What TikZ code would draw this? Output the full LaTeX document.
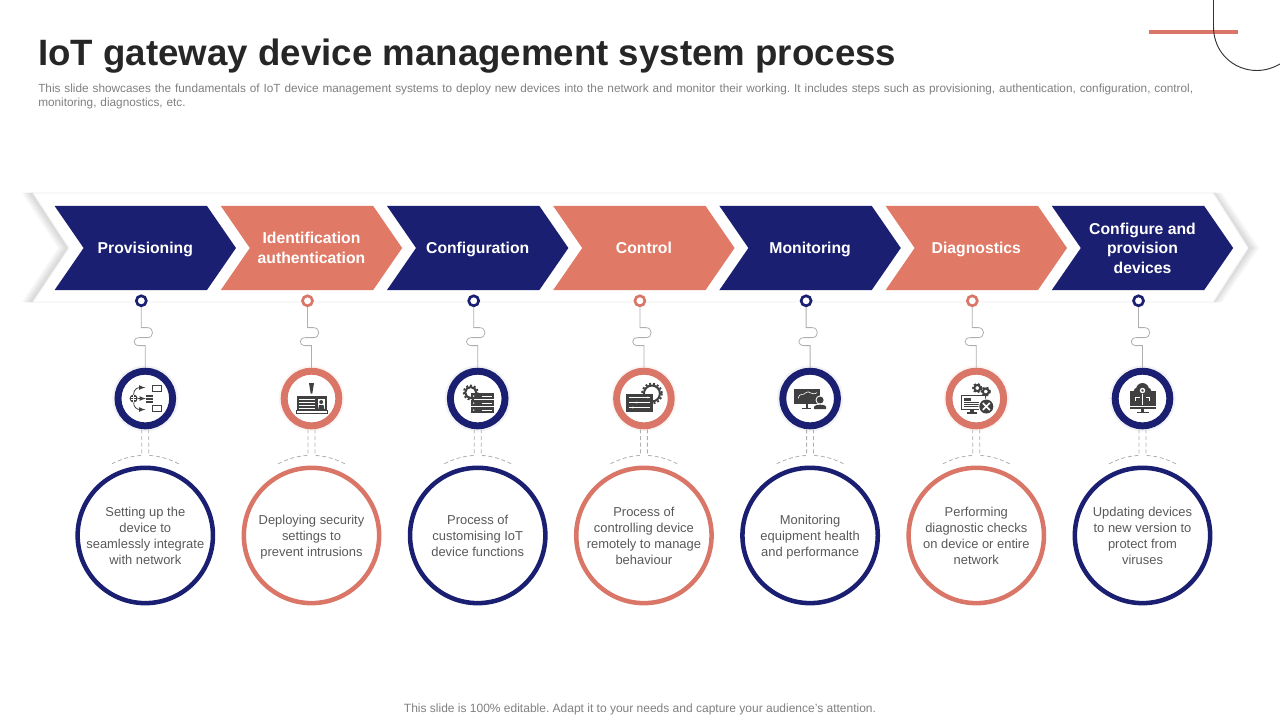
\documentclass[tikz,border=0pt]{standalone}
\usepackage{fontspec}
\setmainfont{Liberation Sans}
\usepackage{tikz}
\usetikzlibrary{shapes.symbols,positioning,calc}
\usepackage{xcolor}
\definecolor{cNavy}{RGB}{26,31,113}
\definecolor{cCoral}{RGB}{224,122,103}
\definecolor{cRing}{RGB}{217,118,104}
\definecolor{cTitle}{RGB}{38,38,38}
\definecolor{cNote}{RGB}{127,127,127}
\definecolor{cBody}{RGB}{89,89,89}
\definecolor{cIcon}{RGB}{64,64,64}
\definecolor{cWire}{RGB}{175,175,175}
\frenchspacing
\tikzset{
  basestep/.style={signal,signal to=east,signal from=west,signal pointer angle=110.8,
                   minimum width=136pt,minimum height=63pt,inner sep=0pt,outer sep=0pt,
                   align=center,text=white,text depth=0pt,font=\fontsize{11.8}{14.7}\selectfont\bfseries},
  navystep/.style={basestep,fill=cNavy},
  coralstep/.style={basestep,fill=cCoral},
  basedot/.style={circle,fill=white,minimum size=7.5pt,inner sep=0pt,line width=2pt},
  navydot/.style={basedot,draw=cNavy},
  coraldot/.style={basedot,draw=cRing},
  basering/.style={circle,fill=white,minimum size=41pt,inner sep=0pt,line width=5.2pt},
  navyring/.style={basering,draw=cNavy,preaction={draw=cNavy!6,line width=8.5pt}},
  coralring/.style={basering,draw=cRing,preaction={draw=cRing!9,line width=8pt}},
  basedesc/.style={circle,fill=white,minimum size=101.5pt,inner sep=0pt,line width=3.4pt,
                   align=center,text=cBody,text depth=0pt,font=\fontsize{9.7}{12}\selectfont},
  navydesc/.style={basedesc,draw=cNavy},
  coraldesc/.style={basedesc,draw=cRing},
  wire/.style={draw=cWire,line width=0.6pt},
  dashwire/.style={draw=cWire,line width=0.6pt,dash pattern=on 3pt off 2pt},
  icofill/.style={fill=cIcon,draw=none},
  icoline/.style={draw=cIcon,line width=0.6pt,fill=none},
  icocut/.style={draw=white,line width=0.45pt,fill=none},
  gearring/.style={draw=cIcon,line width=1.5pt,fill=white},
  gearteeth/.style={draw=cIcon,line width=1.4pt,dash pattern=on 1.5pt off 1.5pt},
  % small icons, origin at the centre of the ring
  iconprov/.pic={
    \fill[icofill] (-11.7,0) circle (4);
    \draw[icocut] (-14.5,-1.2) -- (-9,-1.2) (-14.5,1.2) -- (-9,1.2) (-11.7,-4) -- (-11.7,4);
    \fill[icofill] (0.5,-4) rectangle (7.5,4);
    \draw[icocut] (0.5,-1.3) -- (7.5,-1.3) (0.5,1.3) -- (7.5,1.3);
    \draw[icoline,-latex] (-7.5,0) -- (0.5,0);
    \draw[icoline,-latex] (-11.7,-4) .. controls (-11.7,-9) and (-8,-11) .. (0,-11);
    \draw[icoline,-latex] (-11.7,4) .. controls (-11.7,9) and (-8,11) .. (0,11);
    \draw[icoline] (7.5,-13) rectangle (16,-7);
    \draw[icoline] (7.5,7) rectangle (16,13);
  },
  iconid/.pic={
    \fill[icofill] (-2.5,-15.5) -- (2.5,-15.5) -- (0.8,-5) -- (-0.8,-5) -- cycle;
    \fill[icofill] (-15,-2.5) rectangle (15.5,12);
    \draw[icoline] (-15,12) rectangle (15.5,15);
    \foreach \y in {0.5,3.5,6.5,9.5}
      \draw[icocut] (-13,\y) -- (3,\y);
    \fill[white] (6,0) rectangle (13.5,10.5);
    \fill[icofill] (9.7,3.5) circle (2);
    \fill[icofill] (6.8,10.5) -- (7.5,6.5) -- (12,6.5) -- (12.8,10.5) -- cycle;
  },
  iconconf/.pic={
    \draw[gearteeth] (-7,-6) circle (7);
    \draw[gearring] (-7,-6) circle (5.5);
    \fill[icofill] (-7,-5.5) rectangle (16,0.5);
    \fill[icofill] (-7,1.7) rectangle (16,7.5);
    \fill[icofill] (-7,8.7) rectangle (16,14.5);
    \foreach \y in {-2.5,4.6,11.6} {
      \draw[icocut,line width=0.8pt] (4,\y) -- (14,\y);
      \fill[white] (-4,\y) circle (0.8);
    }
  },
  iconctrl/.pic={
    \draw[gearteeth] (8,-5) circle (10);
    \draw[gearring] (8,-5) circle (8);
    \fill[icofill] (-18,-5) rectangle (9,13.5);
    \foreach \y/\x in {-1/4,4/-7,9/-11} {
      \draw[icocut] (-15,\y) -- (6,\y);
      \fill[white] (\x,\y) circle (1);
    }
  },
  iconmon/.pic={
    \fill[icofill] (-16,-10) rectangle (10,5);
    \draw[icocut] (-12,0) .. controls (-10,-7) and (-7,-2) .. (-4,-6)
                  .. controls (-1,-9) and (1,-2) .. (7,-6);
    \fill[icofill] (-4.5,5) rectangle (-2.5,9);
    \fill[icofill] (-8.5,9) rectangle (1,10.5);
    \fill[white] (10,1.5) circle (4.6);
    \fill[icofill] (10,1.5) circle (3.5);
    \fill[white] (3,10.5) -- (3,7) .. controls (4,4.5) and (16,4.5) .. (17,7) -- (17,10.5) -- cycle;
    \fill[icofill] (4,10.5) -- (4,8) .. controls (5,5.5) and (15,5.5) .. (16,8) -- (16,10.5) -- cycle;
  },
  icondiag/.pic={
    \draw[gearteeth] (1,-10.5) circle (4.2);
    \draw[gearring] (1,-10.5) circle (3);
    \draw[gearteeth] (9.5,-7) circle (4.2);
    \draw[gearring] (9.5,-7) circle (3);
    \draw[icoline,line width=1pt] (-14.5,-3) rectangle (9,11);
    \fill[icofill] (-12,-1) rectangle (-5,2);
    \foreach \y in {4,6,8}
      \draw[icoline] (-12,\y) -- (3,\y);
    \fill[icofill] (-6,11) rectangle (-2,13.5);
    \fill[icofill] (-9,13.5) rectangle (1,15);
    \fill[white] (10,8) circle (8);
    \fill[icofill] (10,8) circle (7);
    \draw[icocut,line width=1.2pt] (6.5,4.5) -- (13.5,11.5) (13.5,4.5) -- (6.5,11.5);
  },
  iconupd/.pic={
    \fill[icofill] (-13,-8) rectangle (13,10);
    \fill[icofill] (0,-9) circle (6.5);
    \fill[icofill] (-5,-7) circle (4) (5,-7) circle (4);
    \draw[icocut,line width=1pt] (0,-8) circle (2);
    \draw[icocut] (0,-5) -- (0,6) (-7,2) -- (-7,-1) -- (-3,-1) (7,2) -- (7,-1) -- (3,-1);
    \draw[icocut] (-13,8) -- (13,8);
    \fill[icofill] (-1.5,10) rectangle (1.5,13);
    \fill[icofill] (-6,13) rectangle (6,14.5);
  }
}

\begin{document}
\begin{tikzpicture}[x=0.75pt,y=-0.75pt,on grid]
  \useasboundingbox (0,0) rectangle (1280,720);

  % header
  \node[anchor=base west,inner sep=0pt,text=cTitle,font=\fontsize{27.5}{32}\selectfont\bfseries] (title) at (38,66)
      {IoT gateway device management system process};
  \node[anchor=north west,inner sep=0pt,text width=900pt,text=cNote,font=\fontsize{8.84}{10.5}\selectfont] (subtitle) at (38,83.5)
      {This slide showcases the fundamentals of IoT device management systems to deploy new devices into the network and monitor their working. It includes steps such as provisioning, authentication, configuration, control,\\monitoring, diagnostics, etc.};
  \draw[cRing,line width=2.4pt] (1149,32) -- (1238,32);
  \draw[black!80,line width=0.7pt] (1213.5,0) -- (1213.5,27)
      .. controls (1213.5,52) and (1233,70.5) .. (1257,70.5)
      .. controls (1265,70.5) and (1273,68) .. (1280,64);

  % band behind the steps
  \foreach \dx/\shade in {11/3,9/6,7/9,5/12,3/14,1/16} {
    \fill[black!\shade] ({33-\dx},193) -- (33,193) -- (69,248) -- (33,302) -- ({33-\dx},302) -- ({69-\dx},248) -- cycle;
    \fill[black!\shade] (1213,193) -- ({1211+\dx},193) -- ({1248+\dx},248) -- ({1211+\dx},302) -- (1213,302) -- cycle;
  }
  \filldraw[fill=white,draw=black!4,line width=0.8pt] (33,193) -- (1213,193) -- (1248,248)
      -- (1213,302) -- (33,302) -- (69,248) -- cycle;

  % steps
  \node[navystep] (sprov) at (145.3,248) {Provisioning};
  \node[coralstep,right=124.65pt of sprov] (sid) {Identification\\authentication};
  \node[navystep,right=124.65pt of sid] (sconf) {Configuration};
  \node[coralstep,right=124.65pt of sconf] (sctrl) {Control};
  \node[navystep,right=124.65pt of sctrl] (smon) {Monitoring};
  \node[coralstep,right=124.65pt of smon] (sdiag) {Diagnostics};
  \node[navystep,right=124.65pt of sdiag] (supd) {Configure and\\provision\\devices};

  % dots on the band
  \node[navydot,below=39.6pt of sprov,xshift=-3pt] (dprov) {};
  \node[coraldot,below=39.6pt of sid,xshift=-3pt] (did) {};
  \node[navydot,below=39.6pt of sconf,xshift=-3pt] (dconf) {};
  \node[coraldot,below=39.6pt of sctrl,xshift=-3pt] (dctrl) {};
  \node[navydot,below=39.6pt of smon,xshift=-3pt] (dmon) {};
  \node[coraldot,below=39.6pt of sdiag,xshift=-3pt] (ddiag) {};
  \node[navydot,below=39.6pt of supd,xshift=-3pt] (dupd) {};

  % icon rings
  \node[navyring,below=112.9pt of sprov] (iprov) {};
  \node[coralring,below=112.9pt of sid] (iid) {};
  \node[navyring,below=112.9pt of sconf] (iconf) {};
  \node[coralring,below=112.9pt of sctrl] (ictrl) {};
  \node[navyring,below=112.9pt of smon] (imon) {};
  \node[coralring,below=112.9pt of sdiag] (idiag) {};
  \node[navyring,below=112.9pt of supd] (iupd) {};

  \pic at (iprov) {iconprov};
  \pic at (iid) {iconid};
  \pic at (iconf) {iconconf};
  \pic at (ictrl) {iconctrl};
  \pic at (imon) {iconmon};
  \pic at (idiag) {icondiag};
  \pic at (iupd) {iconupd};

  % description circles
  \node[navydesc,below=215.6pt of sprov] (tprov)
      {Setting up the\\device to\\seamlessly integrate\\with network};
  \node[coraldesc,below=215.6pt of sid] (tid)
      {Deploying security\\settings to\\prevent intrusions};
  \node[navydesc,below=215.6pt of sconf] (tconf)
      {Process of\\customising IoT\\device functions};
  \node[coraldesc,below=215.6pt of sctrl] (tctrl)
      {Process of\\controlling device\\remotely to manage\\behaviour};
  \node[navydesc,below=215.6pt of smon] (tmon)
      {Monitoring\\equipment health\\and performance};
  \node[coraldesc,below=215.6pt of sdiag] (tdiag)
      {Performing\\diagnostic checks\\on device or entire\\network};
  \node[navydesc,below=215.6pt of supd] (tupd)
      {Updating devices\\to new version to\\protect from\\viruses};

  \foreach \from/\to in {dprov/iprov,did/iid,dconf/iconf,dctrl/ictrl,dmon/imon,ddiag/idiag,dupd/iupd}
    \draw[wire] (\from.south) -- ++(0,20.5) -- ++(6,0) .. controls +(7,0) and +(7,0) .. ++(0,10)
        -- ++(-8,0) .. controls +(-7,0) and +(-7,0) .. ++(0,8) -- ++(6,0) -- (\to.north);

  \foreach \from/\to in {iprov/tprov,iid/tid,iconf/tconf,ictrl/tctrl,imon/tmon,idiag/tdiag,iupd/tupd} {
    \draw[dashwire] ([xshift=-2.6pt]\from.south) -- ++(0,26)
        .. controls +(-12,1) and +(12,-6) .. ([shift={(-35,-1)}]\to.north);
    \draw[dashwire] ([xshift=2.6pt]\from.south) -- ++(0,26)
        .. controls +(12,1) and +(-12,-6) .. ([shift={(35,-1)}]\to.north);
  }

  \node[anchor=base,inner sep=0pt,text=cNote,font=\fontsize{9}{11}\selectfont] (footer) at (640,712)
      {This slide is 100\% editable. Adapt it to your needs and capture your audience's attention.};
\end{tikzpicture}
\end{document}
